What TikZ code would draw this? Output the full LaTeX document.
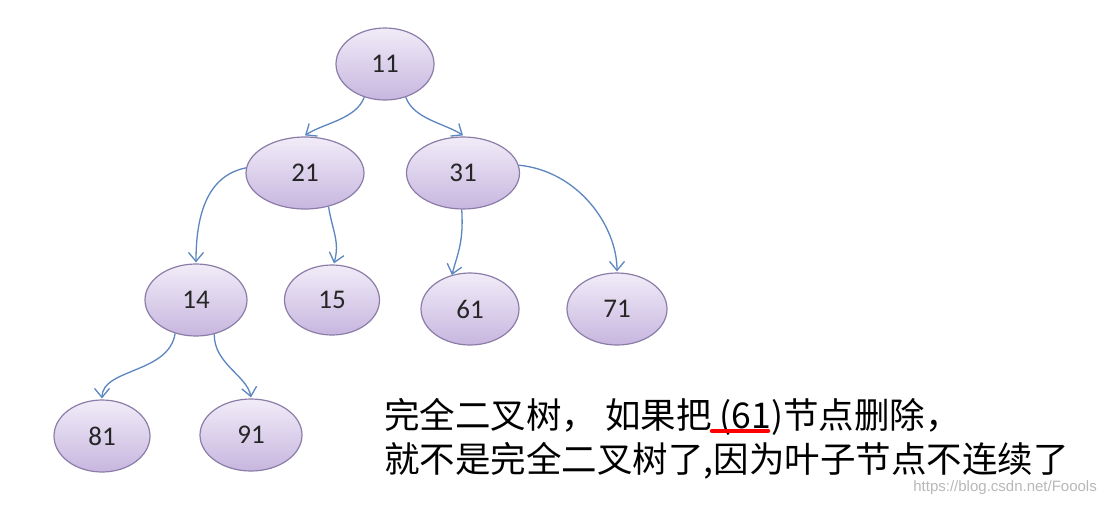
\documentclass[tikz,border=0pt]{standalone}
\usepackage{fontspec}
\setmainfont{Carlito}
\newfontfamily\cjk{Noto Sans CJK SC}
\newfontfamily\wm{Liberation Sans}
\usetikzlibrary{shapes.geometric,arrows.meta}
\definecolor{edgeblue}{HTML}{5B86C0}
\definecolor{nodeborder}{HTML}{8C7DA8}
\definecolor{nodetop}{HTML}{F1ECF8}
\definecolor{nodebot}{HTML}{C7B6DF}
\tikzset{
  tnode/.style={ellipse, draw=nodeborder, line width=1.2pt, top color=nodetop, bottom color=nodebot,
    minimum width=100pt, minimum height=72pt, inner sep=0pt, text=black!85, font=\fontsize{27}{30}\selectfont},
  tedge/.style={draw=edgeblue, line width=1.3pt, -{Straight Barb[length=9pt,width=15pt,line width=1.3pt]}},
  cjktext/.style={anchor=base west, inner sep=0pt, font=\cjk\fontsize{35.5}{42}\selectfont},
}
\begin{document}
\begin{tikzpicture}[x=1pt,y=-1pt]
\useasboundingbox (0,0) rectangle (1102,506);
\fill[white] (0,0) rectangle (1102,506);
\node[tnode, minimum width=98pt] (n11) at (385,64) {11};
\node[tnode, minimum width=118pt] (n21) at (305,173) {21};
\node[tnode, minimum width=113pt] (n31) at (463,173) {31};
\node[tnode, minimum width=102pt] (n14) at (196,300) {14};
\node[tnode, minimum width=95pt, minimum height=70pt] (n15) at (332,300) {15};
\node[tnode, minimum width=98pt] (n61) at (470,309) {61};
\node[tnode, minimum width=100pt] (n71) at (617,309) {71};
\node[tnode, minimum width=96pt] (n81) at (102,436) {81};
\node[tnode, minimum width=102pt] (n91) at (251,435) {91};

\draw[tedge] (n11.238) .. controls +(-8,22) and +(18,-12) .. ([yshift=1pt]n21.north);
\draw[tedge] (n11.302) .. controls +(8,22) and +(-18,-12) .. ([yshift=1pt]n31.north);
\draw[tedge] (n21.175) .. controls +(-40,8) and +(0,-45) .. ([yshift=1pt]n14.north);
\draw[tedge] (n21.305) .. controls +(4,25) and +(6,-22) .. ([xshift=2pt,yshift=1pt]n15.north);
\draw[tedge] (n31.268) .. controls +(2,32) and +(6,-22) .. (n61.118);
\draw[tedge] (n31.8) .. controls +(60,6) and +(0,-45) .. ([yshift=1pt]n71.north);
\draw[tedge] (n14.238) .. controls +(-6,40) and +(0,-30) .. ([yshift=1pt]n81.north);
\draw[tedge] (n14.298) .. controls +(0,30) and +(-4,-22) .. ([yshift=1pt]n91.north);

\node[cjktext] (t1) at (384,428) {完全二叉树， 如果把 (61)节点删除，};
\node[cjktext] (t2) at (384,472) {就不是完全二叉树了,因为叶子节点不连续了};
\draw[red, line width=4.5pt, line cap=round] (712,431) -- (768,431);
\node[anchor=east, inner sep=0pt, text=black!28, font=\wm\fontsize{15}{18}\selectfont] (wm) at (1097,488) {https://blog.csdn.net/Foools};
\end{tikzpicture}
\end{document}
